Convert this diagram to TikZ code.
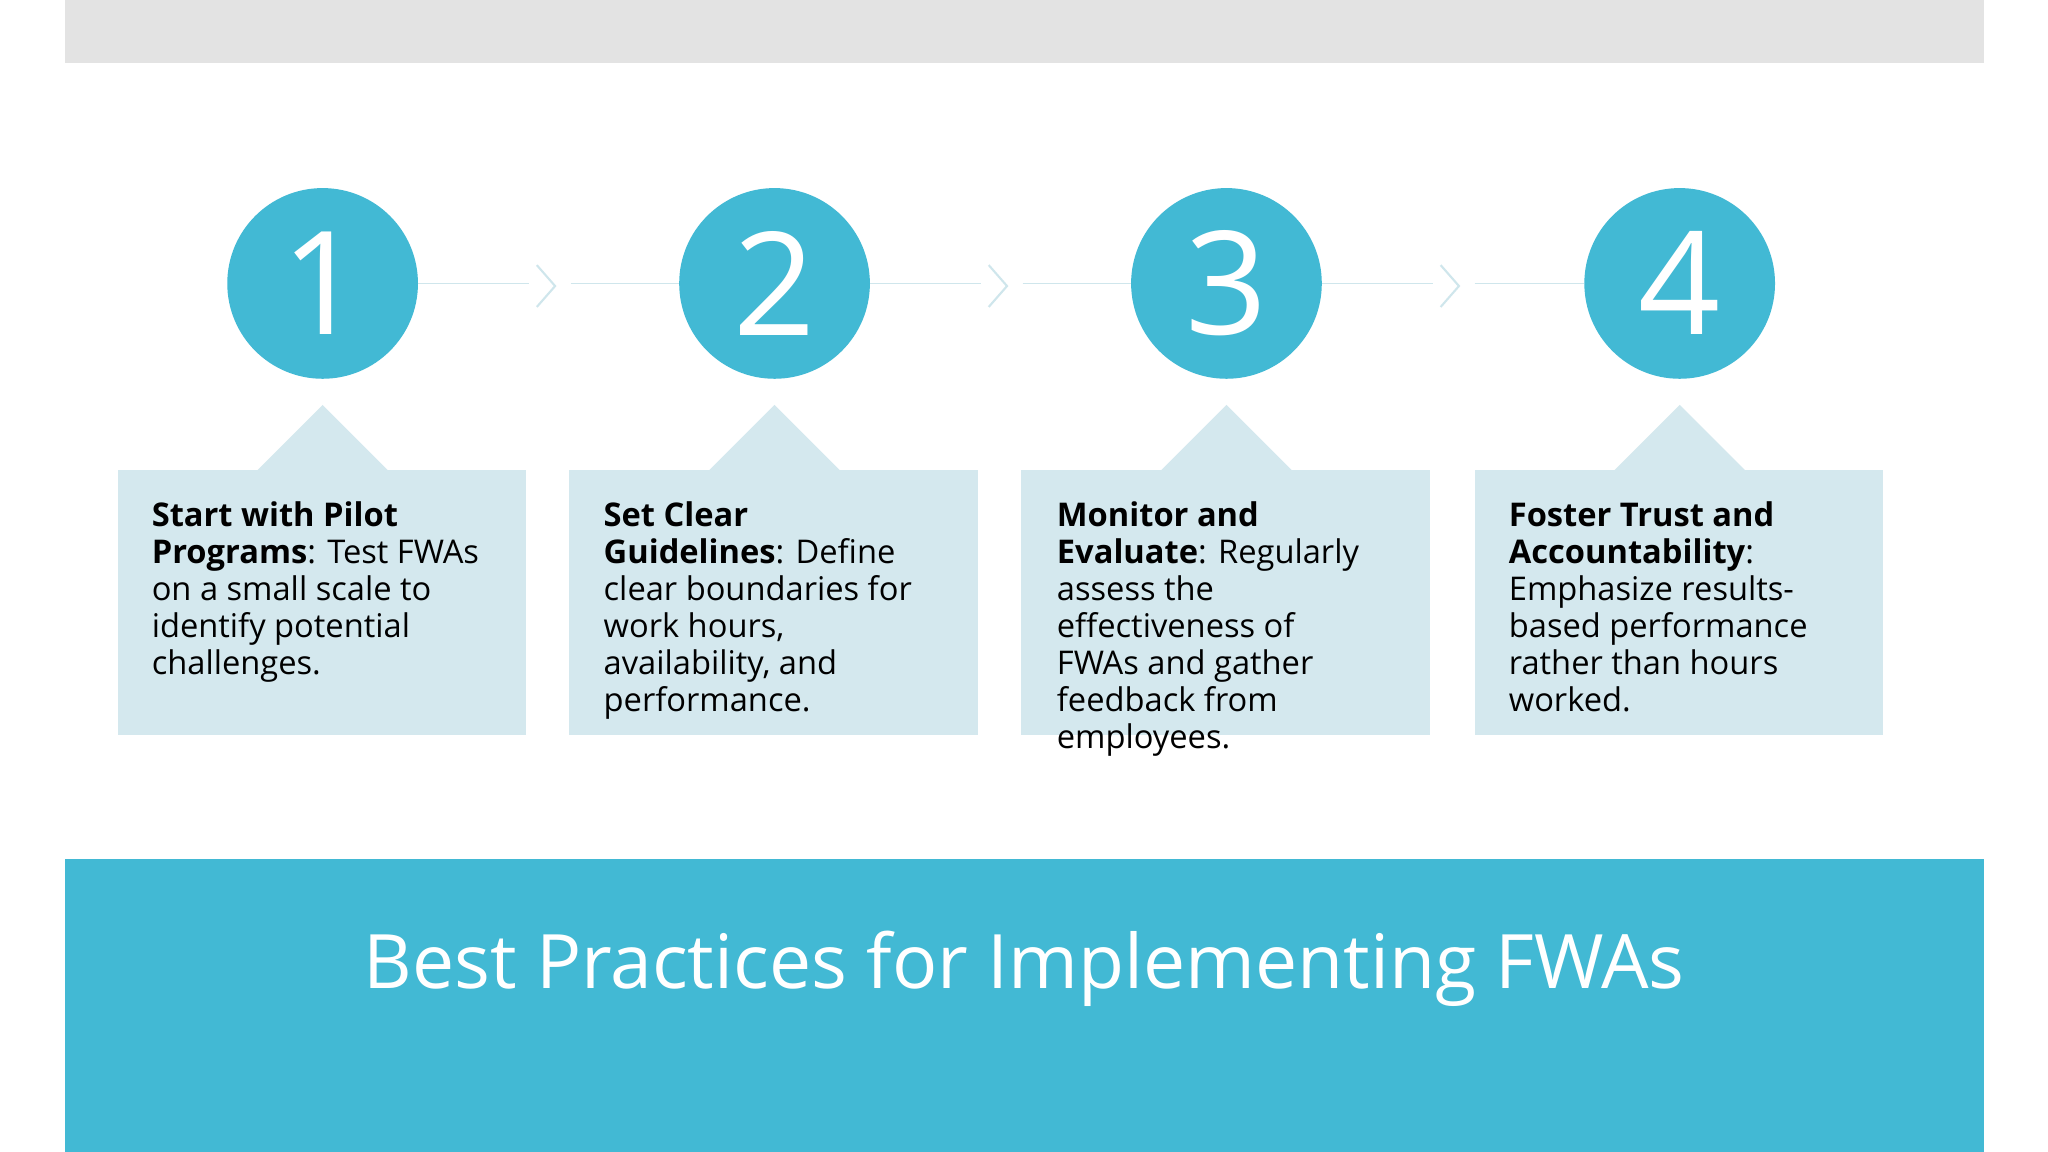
\documentclass[tikz,border=0pt]{standalone}
\usepackage{fontspec}
\setmainfont{Open Sans}
\definecolor{teal}{HTML}{42B9D4}
\definecolor{pale}{HTML}{D4E8EE}
\definecolor{linec}{HTML}{CFE6EC}
\definecolor{grayb}{HTML}{E3E3E3}
\begin{document}
\begin{tikzpicture}[x=1pt,y=-1pt,
  circ/.style={circle,fill=teal,minimum size=146pt,inner sep=0pt,text=white,font=\fontsize{110}{110}\selectfont},
  txt/.style={anchor=north west,align=left,inner sep=0pt,font=\fontsize{25}{28.3}\selectfont},
  conn/.style={draw=linec,line width=1.2pt},
  chev/.style={draw=linec,line width=1.6pt}]
\useasboundingbox (0,0) rectangle (1568,882);
\fill[white] (0,0) rectangle (1568,882);
\fill[grayb] (50,0) rectangle (1519,48);
\fill[teal] (50,658) rectangle (1519,882);
\node[text=white,font=\fontsize{57.5}{60}\selectfont] (title) at (784,742) {Best Practices for Implementing FWAs};
\foreach \i/\cx in {1/247,2/593,3/939,4/1286}{
  \fill[pale] (\cx-157,360) rectangle (\cx+156,563);
  \fill[pale] (\cx-50,360) -- (\cx,310) -- (\cx+50,360) -- cycle;
  \node[circ] (c\i) at (\cx,217) {\i};
}
\foreach \a/\b/\m in {1/2/418,2/3/764,3/4/1110}{
  \coordinate (l\a) at (\m-13,217);
  \coordinate (r\a) at (\m+19,217);
  \draw[conn] (c\a.east) -- (l\a);
  \draw[conn] (r\a) -- (c\b.west);
  \draw[chev] (\m-7,203) -- (\m+7,219) -- (\m-7,235);
}
\node[txt] (t1) at (116,384) {\textbf{Start with Pilot}\\\textbf{Programs}: Test FWAs\\on a small scale to\\identify potential\\challenges.};
\node[txt] (t2) at (462,384) {\textbf{Set Clear}\\\textbf{Guidelines}: Define\\clear boundaries for\\work hours,\\availability, and\\performance.};
\node[txt] (t3) at (809,384) {\textbf{Monitor and}\\\textbf{Evaluate}: Regularly\\assess the\\effectiveness of\\FWAs and gather\\feedback from\\employees.};
\node[txt] (t4) at (1155,384) {\textbf{Foster Trust and}\\\textbf{Accountability}:\\Emphasize results-\\based performance\\rather than hours\\worked.};
\end{tikzpicture}
\end{document}
